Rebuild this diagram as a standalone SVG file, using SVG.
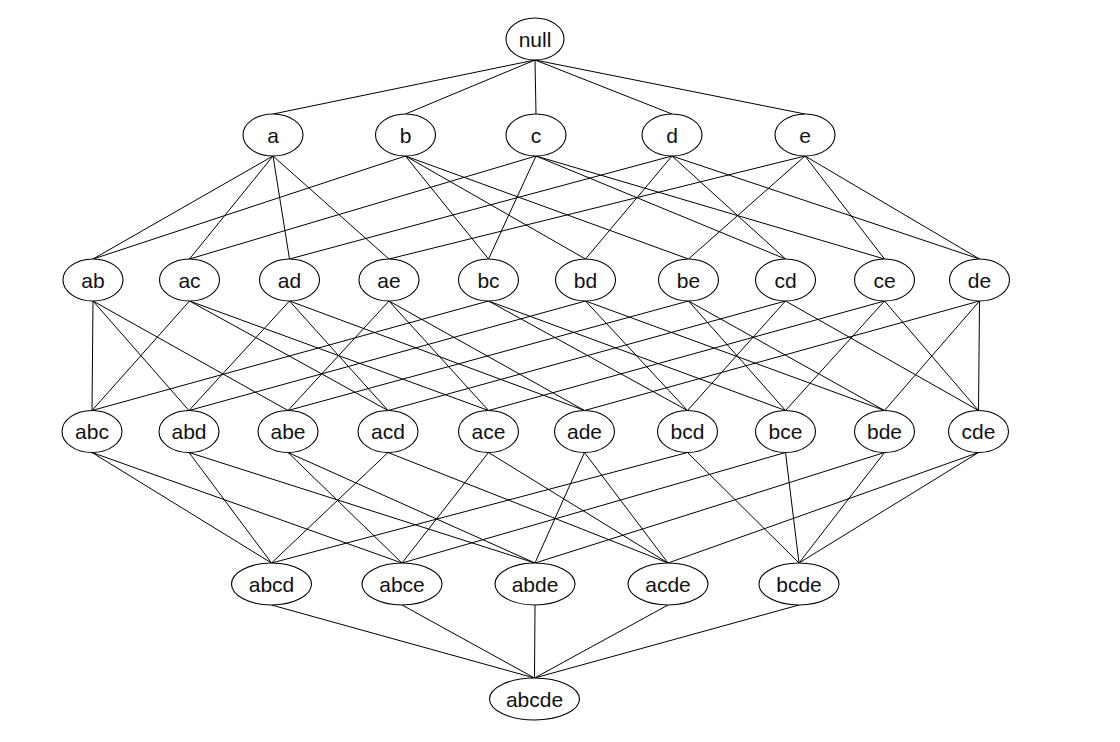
<svg xmlns="http://www.w3.org/2000/svg" width="1120" height="742" viewBox="0 0 1120 742">
<style>
.e{fill:#fff;stroke:#000;stroke-width:1.1}
.t{font-family:"Liberation Sans",Arial,Helvetica,sans-serif;font-size:21px;fill:#111;text-anchor:middle}
#edges line{stroke:#000;stroke-width:1}
</style>
<rect width="1120" height="742" fill="#fff"/>
<g id="edges">
<line x1="535" y1="60" x2="273" y2="114"/>
<line x1="535" y1="60" x2="405.5" y2="114"/>
<line x1="535" y1="60" x2="536" y2="114"/>
<line x1="535" y1="60" x2="672" y2="114"/>
<line x1="535" y1="60" x2="805" y2="114"/>
<line x1="273" y1="156" x2="93" y2="259"/>
<line x1="273" y1="156" x2="189.5" y2="259"/>
<line x1="273" y1="156" x2="289.5" y2="259"/>
<line x1="273" y1="156" x2="389" y2="259"/>
<line x1="405.5" y1="156" x2="93" y2="259"/>
<line x1="405.5" y1="156" x2="488.5" y2="259"/>
<line x1="405.5" y1="156" x2="585.5" y2="259"/>
<line x1="405.5" y1="156" x2="688.5" y2="259"/>
<line x1="536" y1="156" x2="189.5" y2="259"/>
<line x1="536" y1="156" x2="488.5" y2="259"/>
<line x1="536" y1="156" x2="785.5" y2="259"/>
<line x1="536" y1="156" x2="884.5" y2="259"/>
<line x1="672" y1="156" x2="289.5" y2="259"/>
<line x1="672" y1="156" x2="585.5" y2="259"/>
<line x1="672" y1="156" x2="785.5" y2="259"/>
<line x1="672" y1="156" x2="979.5" y2="259"/>
<line x1="805" y1="156" x2="389" y2="259"/>
<line x1="805" y1="156" x2="688.5" y2="259"/>
<line x1="805" y1="156" x2="884.5" y2="259"/>
<line x1="805" y1="156" x2="979.5" y2="259"/>
<line x1="93" y1="301" x2="92" y2="410.5"/>
<line x1="93" y1="301" x2="189" y2="410.5"/>
<line x1="93" y1="301" x2="288" y2="410.5"/>
<line x1="189.5" y1="301" x2="92" y2="410.5"/>
<line x1="189.5" y1="301" x2="388" y2="410.5"/>
<line x1="189.5" y1="301" x2="488.5" y2="410.5"/>
<line x1="289.5" y1="301" x2="189" y2="410.5"/>
<line x1="289.5" y1="301" x2="388" y2="410.5"/>
<line x1="289.5" y1="301" x2="584.5" y2="410.5"/>
<line x1="389" y1="301" x2="288" y2="410.5"/>
<line x1="389" y1="301" x2="488.5" y2="410.5"/>
<line x1="389" y1="301" x2="584.5" y2="410.5"/>
<line x1="488.5" y1="301" x2="92" y2="410.5"/>
<line x1="488.5" y1="301" x2="687.5" y2="410.5"/>
<line x1="488.5" y1="301" x2="785.5" y2="410.5"/>
<line x1="585.5" y1="301" x2="189" y2="410.5"/>
<line x1="585.5" y1="301" x2="687.5" y2="410.5"/>
<line x1="585.5" y1="301" x2="884.5" y2="410.5"/>
<line x1="688.5" y1="301" x2="288" y2="410.5"/>
<line x1="688.5" y1="301" x2="785.5" y2="410.5"/>
<line x1="688.5" y1="301" x2="884.5" y2="410.5"/>
<line x1="785.5" y1="301" x2="388" y2="410.5"/>
<line x1="785.5" y1="301" x2="687.5" y2="410.5"/>
<line x1="785.5" y1="301" x2="978.5" y2="410.5"/>
<line x1="884.5" y1="301" x2="488.5" y2="410.5"/>
<line x1="884.5" y1="301" x2="785.5" y2="410.5"/>
<line x1="884.5" y1="301" x2="978.5" y2="410.5"/>
<line x1="979.5" y1="301" x2="584.5" y2="410.5"/>
<line x1="979.5" y1="301" x2="884.5" y2="410.5"/>
<line x1="979.5" y1="301" x2="978.5" y2="410.5"/>
<line x1="92" y1="452.5" x2="271.5" y2="563"/>
<line x1="92" y1="452.5" x2="402" y2="563"/>
<line x1="189" y1="452.5" x2="271.5" y2="563"/>
<line x1="189" y1="452.5" x2="535" y2="563"/>
<line x1="288" y1="452.5" x2="402" y2="563"/>
<line x1="288" y1="452.5" x2="535" y2="563"/>
<line x1="388" y1="452.5" x2="271.5" y2="563"/>
<line x1="388" y1="452.5" x2="668" y2="563"/>
<line x1="488.5" y1="452.5" x2="402" y2="563"/>
<line x1="488.5" y1="452.5" x2="668" y2="563"/>
<line x1="584.5" y1="452.5" x2="535" y2="563"/>
<line x1="584.5" y1="452.5" x2="668" y2="563"/>
<line x1="687.5" y1="452.5" x2="271.5" y2="563"/>
<line x1="687.5" y1="452.5" x2="799" y2="563"/>
<line x1="785.5" y1="452.5" x2="402" y2="563"/>
<line x1="785.5" y1="452.5" x2="799" y2="563"/>
<line x1="884.5" y1="452.5" x2="535" y2="563"/>
<line x1="884.5" y1="452.5" x2="799" y2="563"/>
<line x1="978.5" y1="452.5" x2="668" y2="563"/>
<line x1="978.5" y1="452.5" x2="799" y2="563"/>
<line x1="271.5" y1="605" x2="534.5" y2="678"/>
<line x1="402" y1="605" x2="534.5" y2="678"/>
<line x1="535" y1="605" x2="534.5" y2="678"/>
<line x1="668" y1="605" x2="534.5" y2="678"/>
<line x1="799" y1="605" x2="534.5" y2="678"/>
</g>
<g id="n_null"><ellipse class="e" cx="535" cy="39" rx="29" ry="21"/><text class="t" x="535" y="46.5">null</text></g>
<g id="n_a"><ellipse class="e" cx="273" cy="135" rx="30" ry="21"/><text class="t" x="273" y="142.5">a</text></g>
<g id="n_b"><ellipse class="e" cx="405.5" cy="135" rx="30" ry="21"/><text class="t" x="405.5" y="142.5">b</text></g>
<g id="n_c"><ellipse class="e" cx="536" cy="135" rx="30" ry="21"/><text class="t" x="536" y="142.5">c</text></g>
<g id="n_d"><ellipse class="e" cx="672" cy="135" rx="30" ry="21"/><text class="t" x="672" y="142.5">d</text></g>
<g id="n_e"><ellipse class="e" cx="805" cy="135" rx="30" ry="21"/><text class="t" x="805" y="142.5">e</text></g>
<g id="n_ab"><ellipse class="e" cx="93" cy="280" rx="30" ry="21"/><text class="t" x="93" y="287.5">ab</text></g>
<g id="n_ac"><ellipse class="e" cx="189.5" cy="280" rx="30" ry="21"/><text class="t" x="189.5" y="287.5">ac</text></g>
<g id="n_ad"><ellipse class="e" cx="289.5" cy="280" rx="30" ry="21"/><text class="t" x="289.5" y="287.5">ad</text></g>
<g id="n_ae"><ellipse class="e" cx="389" cy="280" rx="30" ry="21"/><text class="t" x="389" y="287.5">ae</text></g>
<g id="n_bc"><ellipse class="e" cx="488.5" cy="280" rx="30" ry="21"/><text class="t" x="488.5" y="287.5">bc</text></g>
<g id="n_bd"><ellipse class="e" cx="585.5" cy="280" rx="30" ry="21"/><text class="t" x="585.5" y="287.5">bd</text></g>
<g id="n_be"><ellipse class="e" cx="688.5" cy="280" rx="30" ry="21"/><text class="t" x="688.5" y="287.5">be</text></g>
<g id="n_cd"><ellipse class="e" cx="785.5" cy="280" rx="30" ry="21"/><text class="t" x="785.5" y="287.5">cd</text></g>
<g id="n_ce"><ellipse class="e" cx="884.5" cy="280" rx="30" ry="21"/><text class="t" x="884.5" y="287.5">ce</text></g>
<g id="n_de"><ellipse class="e" cx="979.5" cy="280" rx="30" ry="21"/><text class="t" x="979.5" y="287.5">de</text></g>
<g id="n_abc"><ellipse class="e" cx="92" cy="431.5" rx="30" ry="21"/><text class="t" x="92" y="439">abc</text></g>
<g id="n_abd"><ellipse class="e" cx="189" cy="431.5" rx="30" ry="21"/><text class="t" x="189" y="439">abd</text></g>
<g id="n_abe"><ellipse class="e" cx="288" cy="431.5" rx="30" ry="21"/><text class="t" x="288" y="439">abe</text></g>
<g id="n_acd"><ellipse class="e" cx="388" cy="431.5" rx="30" ry="21"/><text class="t" x="388" y="439">acd</text></g>
<g id="n_ace"><ellipse class="e" cx="488.5" cy="431.5" rx="30" ry="21"/><text class="t" x="488.5" y="439">ace</text></g>
<g id="n_ade"><ellipse class="e" cx="584.5" cy="431.5" rx="30" ry="21"/><text class="t" x="584.5" y="439">ade</text></g>
<g id="n_bcd"><ellipse class="e" cx="687.5" cy="431.5" rx="30" ry="21"/><text class="t" x="687.5" y="439">bcd</text></g>
<g id="n_bce"><ellipse class="e" cx="785.5" cy="431.5" rx="30" ry="21"/><text class="t" x="785.5" y="439">bce</text></g>
<g id="n_bde"><ellipse class="e" cx="884.5" cy="431.5" rx="30" ry="21"/><text class="t" x="884.5" y="439">bde</text></g>
<g id="n_cde"><ellipse class="e" cx="978.5" cy="431.5" rx="30" ry="21"/><text class="t" x="978.5" y="439">cde</text></g>
<g id="n_abcd"><ellipse class="e" cx="271.5" cy="584" rx="40" ry="21"/><text class="t" x="271.5" y="591.5">abcd</text></g>
<g id="n_abce"><ellipse class="e" cx="402" cy="584" rx="40" ry="21"/><text class="t" x="402" y="591.5">abce</text></g>
<g id="n_abde"><ellipse class="e" cx="535" cy="584" rx="40" ry="21"/><text class="t" x="535" y="591.5">abde</text></g>
<g id="n_acde"><ellipse class="e" cx="668" cy="584" rx="40" ry="21"/><text class="t" x="668" y="591.5">acde</text></g>
<g id="n_bcde"><ellipse class="e" cx="799" cy="584" rx="40" ry="21"/><text class="t" x="799" y="591.5">bcde</text></g>
<g id="n_abcde"><ellipse class="e" cx="534.5" cy="699" rx="45" ry="21"/><text class="t" x="534.5" y="706.5">abcde</text></g>
</svg>
